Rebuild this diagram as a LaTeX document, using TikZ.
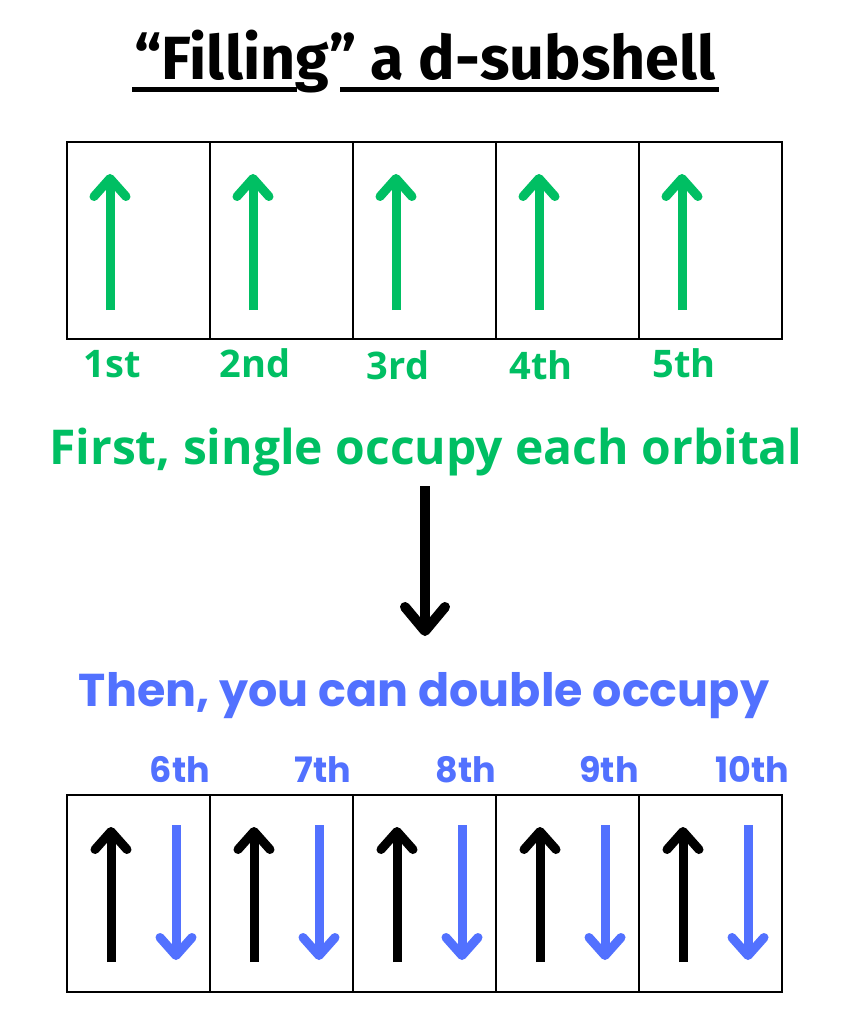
\documentclass[tikz,border=0pt]{standalone}
\usepackage{fontspec}
\setmainfont{Open Sans}
\newfontfamily\titlefont{Fira Sans}
\newfontfamily\bluefont{Poppins}
\usetikzlibrary{arrows.meta, calc}
\definecolor{spingreen}{RGB}{0,191,99}
\definecolor{spinblue}{RGB}{82,113,255}
\tikzset{
  orbital/.style={draw, line width=2.5pt, minimum width=143pt, minimum height=197pt,
    inner sep=0, outer sep=0, anchor=north west},
  spin/.style={line width=9pt, -{Straight Barb[round, length=18pt, width=32pt]}},
  greenlabel/.style={anchor=base, text=spingreen, font=\fontsize{38}{40}\selectfont\bfseries},
  bluelabel/.style={anchor=base, text=spinblue, font=\bluefont\fontsize{35}{38}\selectfont\bfseries}
}

\begin{document}
\begin{tikzpicture}[x=1pt, y=-1pt]
  \useasboundingbox (0,0) rectangle (851,1024);

  % title
  \node [anchor=base, font=\titlefont\fontsize{61}{64}\selectfont\bfseries] (title) at (425,80)
    {“Filling” a d-subshell};
  \draw [line width=5pt] (132,90) -- (297,90);
  \draw [line width=5pt] (340,90) -- (719,90);

  % single occupation
  \foreach \i/\lab/\dy in {1/1st/0, 2/2nd/0, 3/3rd/2, 4/4th/2, 5/5th/0} {
    \node [orbital] (o\i) at ({67+143*(\i-1)},142) {};
    \coordinate (ob\i) at ({110+143*(\i-1)},310);
    \coordinate (ot\i) at ({110+143*(\i-1)},174);
    \draw [spin, spingreen] (ob\i) -- (ot\i);
    \node [greenlabel] (ol\i) at ({112+143*(\i-1)},{377+\dy}) {\lab};
  }

  \node [anchor=base, text=spingreen, font=\fontsize{48}{52}\selectfont\bfseries] (first) at (426,464)
    {First, single occupy each orbital};

  \coordinate (down1) at (425,486);
  \coordinate (down2) at (425,636);
  \draw [line width=10pt, -{Straight Barb[round, length=24pt, width=40pt]}] (down1) -- (down2);

  \node [anchor=base, text=spinblue, font=\bluefont\fontsize{46}{50}\selectfont\bfseries] (then) at (424,706)
    {Then, you can double occupy};

  % double occupation
  \foreach \i/\lab in {1/6th, 2/7th, 3/8th, 4/9th, 5/10th} {
    \node [orbital] (p\i) at ({67+143*(\i-1)},795) {};
    \coordinate (pu\i) at ({111+143*(\i-1)},962);
    \coordinate (pt\i) at ({111+143*(\i-1)},827);
    \coordinate (pd\i) at ({176+143*(\i-1)},825);
    \coordinate (pe\i) at ({176+143*(\i-1)},960);
    \draw [spin] (pu\i) -- (pt\i);
    \draw [spin, spinblue] (pd\i) -- (pe\i);
    \node [bluelabel] (pl\i) at ({180+143*(\i-1)},782) {\lab};
  }
\end{tikzpicture}
\end{document}
